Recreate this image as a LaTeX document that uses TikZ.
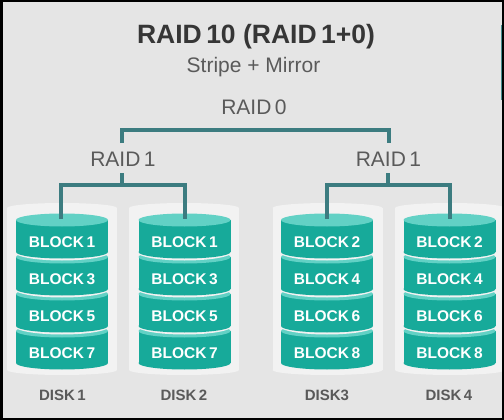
\documentclass[tikz,border=0pt]{standalone}
\usepackage{fontspec}
\setmainfont{Liberation Sans}
\definecolor{bg}{HTML}{E5E5E5}
\definecolor{panel}{HTML}{F2F2F2}
\definecolor{body}{HTML}{17AA9A}
\definecolor{topc}{HTML}{62D1C5}
\definecolor{conn}{HTML}{3C7C80}
\definecolor{titlec}{HTML}{363636}
\definecolor{labc}{HTML}{5A5A5A}
\tikzset{
  connline/.style={draw=conn, line width=4.8pt, line join=miter, line cap=butt},
  lbl/.style={inner sep=0pt, text=labc, font=\fontsize{21}{24}\selectfont},
  blocktxt/.style={inner sep=0pt, text=white, font=\bfseries\fontsize{15.5}{17}\selectfont},
  disktxt/.style={inner sep=0pt, text=labc, font=\bfseries\fontsize{15}{17}\selectfont},
}
% #1 = centre x, #2 = top ellipse centre y, #3 = label, #4 = node name
\newcommand\diskblock[4]{%
  \begin{scope}[shift={(#1,#2)}]
    \fill[panel] (0,32) ellipse (47.5 and 8.5);
    \fill[body] (-46,0) rectangle (46,32);
    \fill[body] (0,32) ellipse (46 and 6.5);
    \fill[topc] (0,0) ellipse (46 and 6.5);
    \node[blocktxt] (#4) at (0,22.5) {#3};
  \end{scope}}
% #1 = centre x
\newcommand\diskpanel[1]{%
  \begin{scope}[shift={(#1,0)}]
    \fill[panel] (-55,208) rectangle (55,370);
    \fill[panel] (0,208) ellipse (55 and 5);
    \fill[panel] (0,370) ellipse (55 and 5);
  \end{scope}}
\begin{document}
\begin{tikzpicture}[x=1pt,y=-1pt]
  \useasboundingbox (0,0) rectangle (504,420);
  \fill[bg] (0,0) rectangle (504,420);

  % disk panels
  \diskpanel{62}
  \diskpanel{184}
  \diskpanel{327.5}
  \begin{scope}
    \clip (0,0) rectangle (503,420);
    \diskpanel{450}
  \end{scope}

  % blocks, bottom first
  \foreach \cx/\na/\nb/\nc/\nd/\dn in {62/1/3/5/7/a, 184.5/1/3/5/7/b, 327/2/4/6/8/c, 449.5/2/4/6/8/d}{
    \diskblock{\cx}{331}{BLOCK\,\nd}{blk\dn4}
    \diskblock{\cx}{294}{BLOCK\,\nc}{blk\dn3}
    \diskblock{\cx}{257}{BLOCK\,\nb}{blk\dn2}
    \diskblock{\cx}{220}{BLOCK\,\na}{blk\dn1}
  }

  % titles
  \node[inner sep=0pt, anchor=base, text=titlec, font=\bfseries\fontsize{26.5}{30}\selectfont] (title) at (256,43.5) {RAID\,10 (RAID\,1+0)};
  \node[inner sep=0pt, anchor=base, text=labc, font=\fontsize{21}{24}\selectfont] (sub) at (253.5,72.5) {Stripe + Mirror};

  % labels
  \node[lbl, anchor=base] (raid0) at (254,115) {RAID\,0};
  \node[lbl, anchor=base] (r1L) at (123,166) {RAID\,1};
  \node[lbl, anchor=base] (r1R) at (388.5,166) {RAID\,1};

  % disk labels
  \node[disktxt, anchor=base] (disk1) at (62.5,400) {DISK\,1};
  \node[disktxt, anchor=base] (disk2) at (184,400) {DISK\,2};
  \node[disktxt, anchor=base] (disk3) at (327,400) {DISK3};
  \node[disktxt, anchor=base] (disk4) at (449,400) {DISK\,4};

  % connector anchors
  \coordinate (tl) at (122,143);
  \coordinate (tr) at (389,143);
  \coordinate (bl) at (122,173);
  \coordinate (br) at (388,173);
  \coordinate (d1) at (61,219);
  \coordinate (d2) at (185,219);
  \coordinate (d3) at (327,219);
  \coordinate (d4) at (450,219);

  \draw[connline] (tl) -- ++(0,-13) -| (tr);
  \draw[connline] (bl) -- ++(0,12) coordinate (jl);
  \draw[connline] (d1) |- (jl) -| (d2);
  \draw[connline] (br) -- ++(0,12) coordinate (jr);
  \draw[connline] (d3) |- (jr) -| (d4);

  % right edge accent and frame
  \draw[conn!80!topc, line width=1.2pt] (502,25) -- (502,100);
  \draw[black, line width=2.5pt] (1.25,1.25) rectangle (502.75,418.75);
\end{tikzpicture}
\end{document}
